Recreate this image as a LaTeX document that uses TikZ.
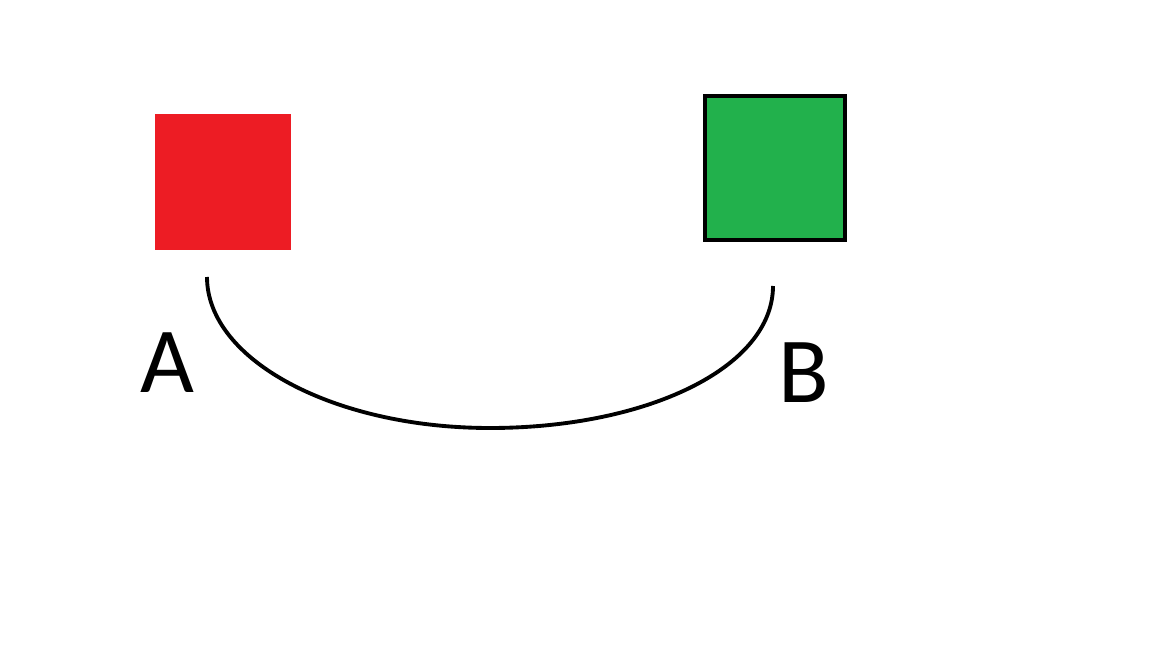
\documentclass[tikz,border=0pt]{standalone}
\usepackage{fontspec}
\setmainfont{Carlito}
\definecolor{paintred}{HTML}{ED1C24}
\definecolor{paintgreen}{HTML}{22B14C}
\begin{document}
\begin{tikzpicture}[x=0.02cm, y=-0.02cm,
	redbox/.style={fill=paintred, draw=none},
	greenbox/.style={fill=paintgreen, draw=black, line width=2.3pt},
	biglabel/.style={font=\fontsize{53}{60}\selectfont, inner sep=0pt},
	link/.style={line width=2.2pt, black}]
	%%%%% START %%%%%
	\useasboundingbox (0, 0) rectangle (1152, 648);
	
	\fill[redbox] (155, 114) rectangle (291, 250);
	\draw[greenbox] (705, 96) rectangle (845, 240);
	
	\coordinate (startA) at (207, 277);
	\coordinate (low) at (490, 428);
	\coordinate (endB) at (773, 286);
	\draw[link] (startA) .. controls (207, 360) and (334, 428) .. (low)
		.. controls (646, 428) and (773, 368) .. (endB);
	
	\node[biglabel] (labA) at (167, 363) {A};
	\node[biglabel] (labB) at (804, 373) {B};
	
	%%%%% END %%%%%
\end{tikzpicture}
\end{document}
